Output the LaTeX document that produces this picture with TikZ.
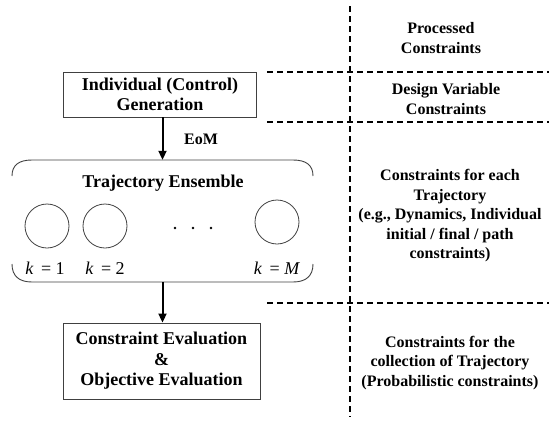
\documentclass[tikz,border=0pt]{standalone}
\usepackage{fontspec}
\setmainfont{Liberation Serif}
\usetikzlibrary{arrows.meta}
\tikzset{
  procbox/.style={draw=black!75, line width=0.9pt, align=center, inner sep=0pt,
    font=\bfseries\fontsize{18}{20.5}\selectfont},
  righttext/.style={align=center, inner sep=0pt, font=\bfseries\fontsize{16}{19.5}\selectfont},
  flowarrow/.style={line width=2pt, -{Triangle[width=8pt,length=9pt]}},
  sep/.style={line width=1.1pt, dash pattern=on 6pt off 4pt},
  traj/.style={circle, draw=black!75, line width=0.8pt, minimum size=44pt, inner sep=0pt},
  klabel/.style={inner sep=0pt, font=\fontsize{18}{20}\selectfont},
  enscurve/.style={draw=black!75, line width=0.9pt}
}
\begin{document}
\begin{tikzpicture}[x=1pt,y=-1pt]
\useasboundingbox (0,0) rectangle (550,421);
% left flow
\node[procbox, minimum width=193pt, minimum height=45pt] (gen) at (160,94.5)
  {Individual (Control)\\Generation};
\node[minimum width=301pt, minimum height=122pt, inner sep=0pt] (ens) at (162.5,221) {};
\draw[enscurve] (12,176) .. controls (12,165) and (19,160) .. (32,160) -- (293,160)
  .. controls (306,160) and (313,165) .. (313,176);
\draw[enscurve] (12,264) .. controls (12,276) and (19,282) .. (32,282) -- (293,282)
  .. controls (306,282) and (313,276) .. (313,264);
\node[procbox, draw=none] (enstitle) at (163,183) {Trajectory Ensemble};
\node[traj] (c1) at (47,226) {};
\node[traj] (c2) at (105,226) {};
\node[traj] (cM) at (277,222) {};
\fill (175,228) circle (1.4pt) (193,228) circle (1.4pt) (211,228) circle (1.4pt);
\node[klabel] (k1) at (45,268) {\textit{k}\, = 1};
\node[klabel] (k2) at (105,268) {\textit{k}\, = 2};
\node[klabel] (kM) at (277,268) {\textit{k}\, = \textit{M}};
\node[procbox, minimum width=197pt, minimum height=76pt] (eval) at (161.5,361)
  {Constraint Evaluation\\\&\\Objective Evaluation};
\draw[flowarrow] (gen.south -| ens.north) -- (ens.north);
\node[righttext] (eom) at (201,139) {EoM};
\draw[flowarrow] (ens.south) -- (ens.south |- eval.north);
% separators
\coordinate (vtop) at (350,6);
\coordinate (vbot) at (350,417);
\draw[sep] (vtop) -- (vbot);
\coordinate (h1l) at (267,72);  \coordinate (h1r) at (549,72);
\coordinate (h2l) at (267,122); \coordinate (h2r) at (549,122);
\coordinate (h3l) at (267,303); \coordinate (h3r) at (549,303);
\draw[sep] (h1l) -- (h1r);
\draw[sep] (h2l) -- (h2r);
\draw[sep] (h3l) -- (h3r);
% right column texts
\node[righttext] (t1) at (441,38) {Processed\\Constraints};
\node[righttext] (t2) at (446,99) {Design Variable\\Constraints};
\node[righttext] (t3) at (450,216) {Constraints for each\\Trajectory\\(e.g., Dynamics, Individual\\initial / final / path\\constraints)};
\node[righttext] (t4) at (450,363) {Constraints for the\\collection of Trajectory\\(Probabilistic constraints)};
\end{tikzpicture}
\end{document}
